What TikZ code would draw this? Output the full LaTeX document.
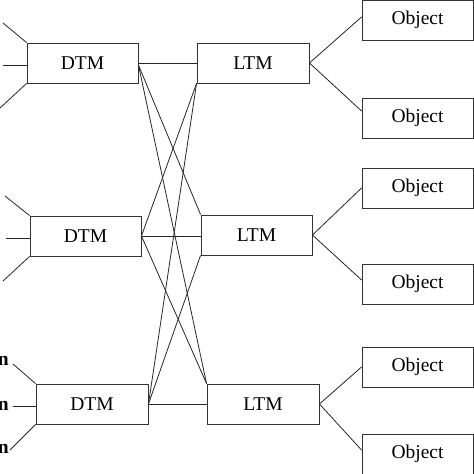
\documentclass[tikz,border=0pt]{standalone}
\usepackage{fontspec}
\setmainfont{Liberation Serif}
\begin{document}
\begin{tikzpicture}[x=1pt,y=-1pt,
  box/.style={draw=black!80,line width=0.9pt,minimum width=111pt,minimum height=40pt,inner sep=0pt,font=\fontsize{19.5}{22}\selectfont},
  wire/.style={draw=black!85,line width=0.8pt},
  lab/.style={font=\bfseries\fontsize{19.5}{22}\selectfont,inner sep=0pt,anchor=east}]
\useasboundingbox (0,0) rectangle (474,474);
% DTM boxes
\node[box] (d1) at (82.5,63) {DTM};
\node[box] (d2) at (85.5,236) {DTM};
\node[box,minimum width=112pt] (d3) at (92,404) {DTM};
% LTM boxes
\node[box,minimum width=112pt] (l1) at (253,63) {LTM};
\node[box] (l2) at (256.5,235) {LTM};
\node[box,minimum width=112pt] (l3) at (263,404) {LTM};
% Objects
\node[box] (o1) at (417.5,20) {Object};
\node[box] (o2) at (417.5,118) {Object};
\node[box] (o3) at (417.5,188) {Object};
\node[box] (o4) at (417.5,284) {Object};
\node[box] (o5) at (417.5,367) {Object};
\node[box] (o6) at (417.5,454) {Object};
% left free ends
\coordinate (a1) at (3,23);
\coordinate (a2) at (3,65);
\coordinate (a3) at (0,108);
\coordinate (b1) at (5,196);
\coordinate (b2) at (6,238);
\coordinate (b3) at (3,281);
\coordinate (c1) at (13,364);
\coordinate (c2) at (13,406);
\coordinate (c3) at (10,450);
\node[lab] (n1) at (9,361) {n};
\node[lab] (n2) at (9,406) {n};
\node[lab] (n3) at (9,449) {n};
\draw[wire] (a1) -- (d1.north west);
\draw[wire] (a2) -- (d1.west |- a2);
\draw[wire] (a3) -- (d1.south west);
\draw[wire] (b1) -- (d2.north west);
\draw[wire] (b2) -- (d2.west |- b2);
\draw[wire] (b3) -- (d2.south west);
\draw[wire] (c1) -- (d3.north west);
\draw[wire] (c2) -- (d3.west |- c2);
\draw[wire] (c3) -- (d3.south west);
% DTM to LTM
\draw[wire] (d1.east) -- (l1.west);
\draw[wire] (d2.east) -- (l2.west |- d2.east);
\draw[wire] (d3.east) -- (l3.west);
\draw[wire] ([yshift=-2pt]d1.east) -- (l2.north west);
\draw[wire] ([yshift=-2pt]d1.east) -- (l3.north west);
\draw[wire] (d2.east) -- (l3.north west);
\draw[wire] (l1.south west) -- (d2.east);
\draw[wire] (l1.south west) -- (d3.east);
\draw[wire] (l2.south west) -- (d3.east);
% LTM to Objects
\draw[wire] (l1.east) -- ([yshift=3pt]o1.west);
\draw[wire] (l1.east) -- ([yshift=7pt]o2.west);
\draw[wire] (l2.east) -- (o3.west);
\draw[wire] (l2.east) -- ([yshift=4pt]o4.west);
\draw[wire] (l3.east) -- (o5.west);
\draw[wire] (l3.east) -- ([yshift=4pt]o6.west);
\end{tikzpicture}
\end{document}
